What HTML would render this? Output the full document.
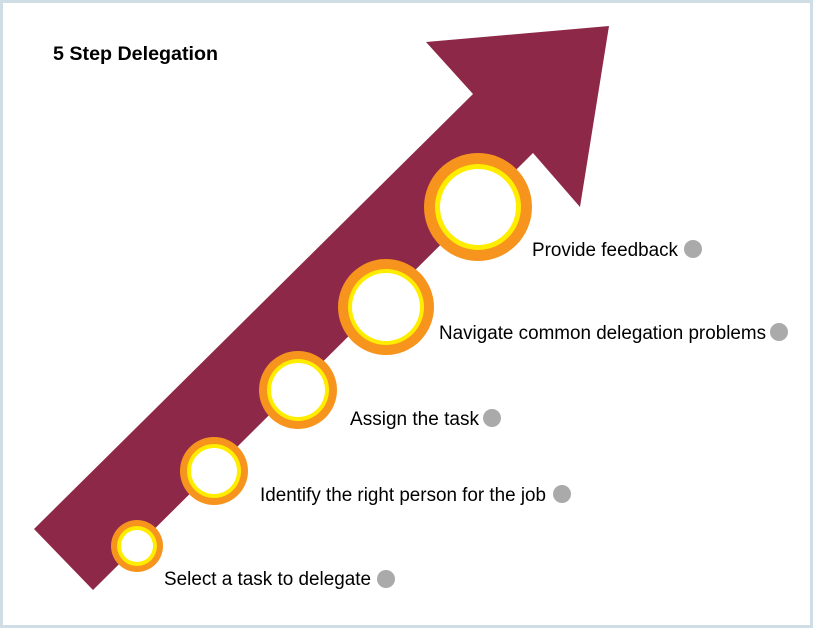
<!DOCTYPE html>
<html><head><meta charset="utf-8"><style>
html,body{margin:0;padding:0;background:#fff}
svg{display:block}
text{font-family:"Liberation Sans",sans-serif;font-size:19px;fill:#000}
</style></head><body>
<svg width="813" height="628" viewBox="0 0 813 628">
<rect x="1.5" y="1.5" width="810" height="625" fill="#fff" stroke="#cfdde4" stroke-width="3"/>
<text x="53" y="60" textLength="165" lengthAdjust="spacingAndGlyphs" style="font-weight:bold;font-size:19px">5 Step Delegation</text>
<polygon points="34,529 473,94 426,42 609,26 580,207 533,153 93,590" fill="#8e2848"/>
<g>
<circle cx="137" cy="546" r="26" fill="#f7941d"/><circle cx="137" cy="546" r="20" fill="#ffed00"/><circle cx="137" cy="546" r="16" fill="#fff"/>
<circle cx="214" cy="471" r="34" fill="#f7941d"/><circle cx="214" cy="471" r="27" fill="#ffed00"/><circle cx="214" cy="471" r="23" fill="#fff"/>
<circle cx="298" cy="390" r="39" fill="#f7941d"/><circle cx="298" cy="390" r="31" fill="#ffed00"/><circle cx="298" cy="390" r="27" fill="#fff"/>
<circle cx="386" cy="307" r="48" fill="#f7941d"/><circle cx="386" cy="307" r="38" fill="#ffed00"/><circle cx="386" cy="307" r="34" fill="#fff"/>
<circle cx="478" cy="207" r="54" fill="#f7941d"/><circle cx="478" cy="207" r="43" fill="#ffed00"/><circle cx="478" cy="207" r="38" fill="#fff"/>
</g>
<text x="532" y="256" textLength="146" lengthAdjust="spacingAndGlyphs">Provide feedback</text><circle cx="693" cy="249" r="9" fill="#aaa"/>
<text x="439" y="339" textLength="327" lengthAdjust="spacingAndGlyphs">Navigate common delegation problems</text><circle cx="779" cy="332" r="9" fill="#aaa"/>
<text x="350" y="425" textLength="129" lengthAdjust="spacingAndGlyphs">Assign the task</text><circle cx="492" cy="418" r="9" fill="#aaa"/>
<text x="260" y="501" textLength="286" lengthAdjust="spacingAndGlyphs">Identify the right person for the job</text><circle cx="562" cy="494" r="9" fill="#aaa"/>
<text x="164" y="585" textLength="207" lengthAdjust="spacingAndGlyphs">Select a task to delegate</text><circle cx="386" cy="579" r="9" fill="#aaa"/>
</svg>
</body></html>
